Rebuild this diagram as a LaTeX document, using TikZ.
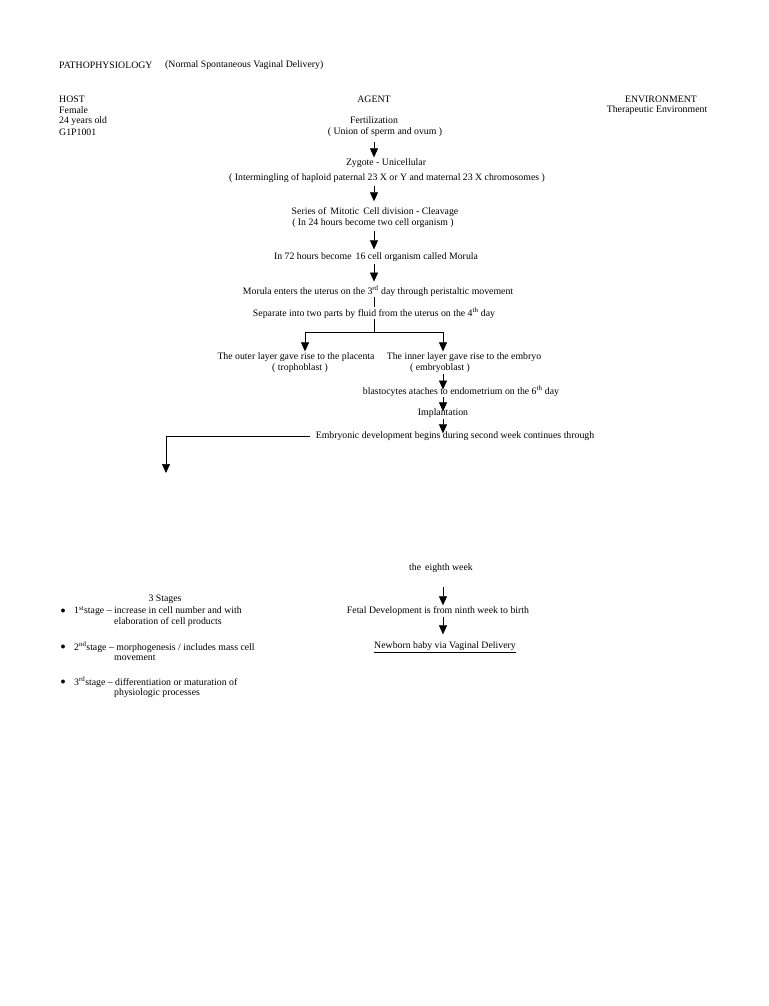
\documentclass[tikz,border=0pt]{standalone}
\usepackage{fontspec}
\setmainfont{Liberation Serif}
\usetikzlibrary{arrows.meta}
\begin{document}
\begin{tikzpicture}[x=1pt, y=-1pt, font=\fontsize{9.8}{11}\selectfont,
  every node/.style={inner sep=1pt},
  arr/.style={-{Triangle[length=9pt,width=8pt]}, line width=0.6pt},
  tick/.style={line width=0.6pt}]
  \useasboundingbox (0,0) rectangle (768,1006);
  % heading
  \node[anchor=west] (title) at (58,65) {PATHOPHYSIOLOGY};
  \node[anchor=west] (subtitle) at (164,65) {(Normal Spontaneous Vaginal Delivery)};
  % host
  \node[anchor=west] (host) at (58,99) {HOST};
  \node[anchor=west] (hostsex) at (58,110) {Female};
  \node[anchor=west] (hostage) at (58,121) {24 years old};
  \node[anchor=west] (hostgp) at (58,132) {G1P1001};
  % environment
  \node (env) at (661,99) {ENVIRONMENT};
  \node (envtype) at (657,110) {Therapeutic Environment};
  % agent
  \node (agent) at (374,99) {AGENT};
  \node (fert) at (374,120) {Fertilization};
  \node (fertb) at (385,132) {( Union of sperm and ovum )};
  \node (zyg) at (386,163) {Zygote - Unicellular};
  \node (zygb) at (387,178) {( Intermingling of haploid paternal 23 X or Y and maternal 23 X chromosomes )};
  \node (cleav) at (375,212) {Series of\, Mitotic\, Cell division - Cleavage};
  \node (cleavb) at (373,223) {( In 24 hours become two cell organism )};
  \node (morula) at (376,257) {In 72 hours become\, 16 cell organism called Morula};
  \node (enters) at (378,291) {Morula enters the uterus on the 3\textsuperscript{rd} day through peristaltic movement};
  \node (separate) at (374,313) {Separate into two parts by fluid from the uterus on the 4\textsuperscript{th} day};
  \node (outer) at (296,357) {The outer layer gave rise to the placenta};
  \node (outerb) at (300,368) {( trophoblast )};
  \node (inner) at (464,357) {The inner layer gave rise to the embryo};
  \node (innerb) at (440,368) {( embryoblast )};
  \node (blasto) at (461,391) {blastocytes ataches to endometrium on the 6\textsuperscript{th} day};
  \node (implant) at (443,413) {Implantation};
  \node (embryo) at (455,436) {Embryonic development begins during second week continues through};
  \node (eighth) at (441,568) {the\, eighth week};
  \node (fetal) at (438,611) {Fetal Development is from ninth week to birth};
  \node (newborn) at (445,647) {\underline{Newborn baby via Vaginal Delivery}};
  % stages
  \node (stages) at (165,599) {3 Stages};
  \foreach \y/\n/\a/\b/\c in {611/1/st/{increase in cell number and with}/{elaboration of cell products},
                              647/2/nd/{morphogenesis / includes mass cell}/{movement},
                              682/3/rd/{differentiation or maturation of}/{physiologic processes}}{
    \node (bul\n) at (63,\y) {$\bullet$};
    \node[anchor=west] (stg\n) at (73,\y) {\n\textsuperscript{\a}stage -- \b};
    \node[anchor=west] (stg\n b) at (113,\y+11) {\c};
  }
  % connectors
  \draw[arr] ([yshift=-4pt]fertb.south -| agent.south) -- (zyg.north -| agent.south);
  \draw[arr] ([yshift=-2pt]zygb.south -| agent.south) -- ([yshift=5pt]cleav.north -| agent.south);
  \draw[arr] ([yshift=-2pt]cleavb.south -| agent.south) -- ([yshift=2pt]morula.north -| agent.south);
  \draw[arr] ([yshift=-1pt]morula.south -| agent.south) -- ([yshift=3pt]enters.north -| agent.south);
  \draw[tick] (enters.south -| agent.south) -- (separate.north -| agent.south);
  \coordinate (split) at ([yshift=-13pt]separate.south -| agent.south);
  \draw[tick] (separate.south -| agent.south) -- (split);
  \draw[arr] (split) -| (outer.north -| 305,0);
  \draw[arr] (split) -| (inner.north -| 443,0);
  \draw[arr] (innerb.south -| implant.north) -- ([yshift=-5pt]blasto.north -| implant.north);
  \draw[arr] (blasto.south -| implant.north) -- ([yshift=-4pt]implant.north);
  \draw[arr] (implant.south) -- ([yshift=-3pt]embryo.north -| implant.north);
  \draw[arr] ([xshift=-5pt]embryo.west) -| ([yshift=-37pt]embryo.west -| 166,0);
  \draw[arr] ([yshift=-13pt]eighth.south -| implant.north) -- (fetal.north -| implant.north);
  \draw[arr] (fetal.south -| implant.north) -- ([yshift=6pt]newborn.north -| implant.north);
\end{tikzpicture}
\end{document}
